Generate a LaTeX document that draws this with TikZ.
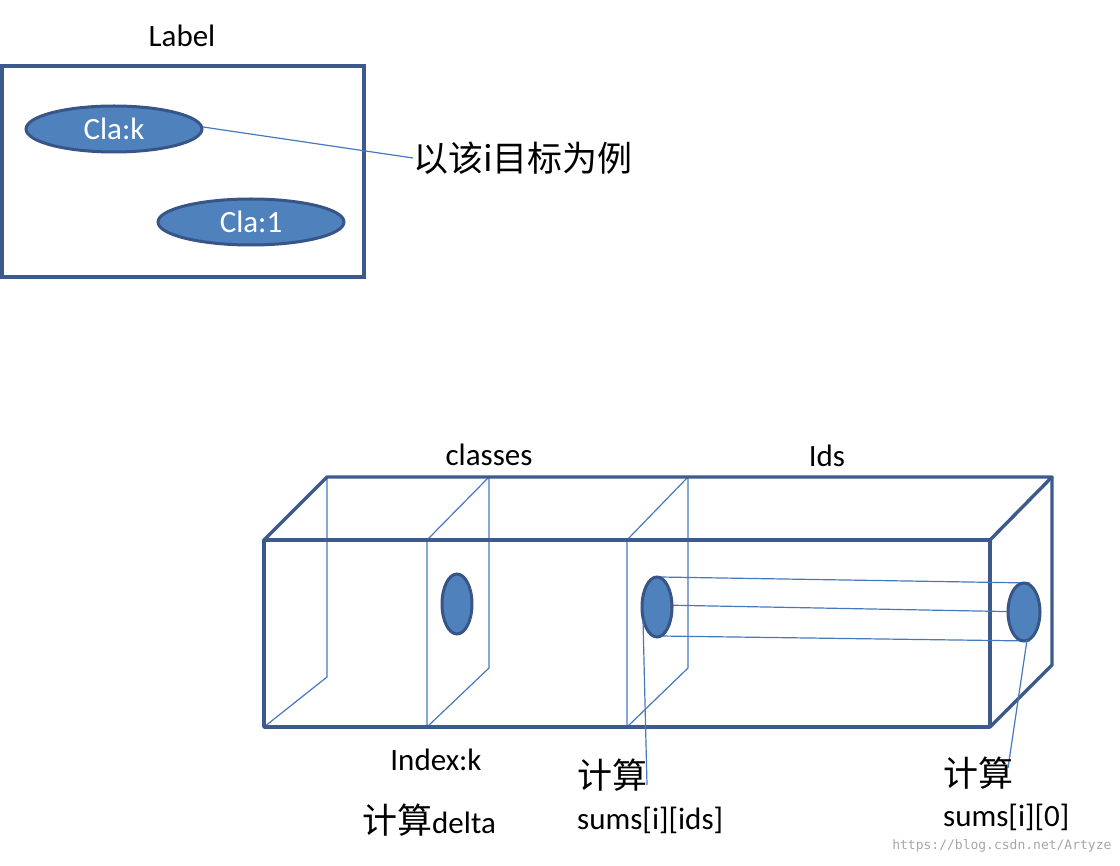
\documentclass[tikz,border=0pt]{standalone}
\usepackage{fontspec}
\setmainfont{Carlito}
\newfontfamily\cjk{Noto Sans CJK SC}
\newfontfamily\wm{DejaVu Sans Mono}
\definecolor{efill}{RGB}{79,129,189}
\definecolor{edge}{RGB}{55,85,135}
\definecolor{boxc}{RGB}{60,90,140}
\definecolor{thin}{RGB}{70,120,190}
\begin{document}
\begin{tikzpicture}[x=1pt,y=-1pt,
  dk/.style={draw=boxc, line width=3.4pt},
  th/.style={draw=thin, line width=1.2pt},
  blob/.style={fill=efill, draw=edge, line width=3pt},
  lbl/.style={font=\fontsize{31}{36}\selectfont, inner sep=0pt},
  cj/.style={font=\cjk\fontsize{35}{40}\selectfont, inner sep=0pt}]
\useasboundingbox (0,0) rectangle (1120,866);
\draw[dk] (2,66) rectangle (364,277);
\node[lbl] (label) at (182,36) {Label};
\path[blob] (114,129) ellipse [x radius=88, y radius=23];
\node[lbl, text=white] (clak) at (114,129) {Cla:k};
\path[blob] (251,222) ellipse [x radius=93, y radius=23];
\node[lbl, text=white] (cla1) at (251,222) {Cla:1};
\coordinate (ka) at (203,127);
\node[cj, anchor=west] (ex) at (413,158) {以该i目标为例};
\draw[th] (ka) -- (ex.west);
% box
\draw[th] (327,477) -- (327,677) -- (264,727);
\draw[th] (427,540) -- (489,477) -- (489,668) -- (427,727) (427,540) -- (427,727);
\draw[th] (627,540) -- (688,477) -- (688,668) -- (627,727) (627,540) -- (627,727);
\draw[dk, line join=round] (264,540) rectangle (990,727);
\draw[dk, line join=round] (264,540) -- (327,477) -- (1052,477) -- (990,540);
\draw[dk, line join=round] (1052,477) -- (1052,665) -- (990,727);
% ellipses
\path[blob] (457,604) ellipse [x radius=15, y radius=30];
\draw[th] (660,577) -- (1030,583) (660,605) -- (1030,612) (660,636) -- (1030,641);
\path[blob] (657,607) ellipse [x radius=15, y radius=30];
\path[blob] (1024,612) ellipse [x radius=16, y radius=29];
\draw[th] (643,620) -- (647,785);
\draw[th] (1027,640) -- (1008,768);
% texts
\node[lbl] (classes) at (489,455) {classes};
\node[lbl] (ids) at (827,456) {Ids};
\node[lbl] (idx) at (436,760) {Index:k};
\node[lbl, anchor=west] (d) at (362,820) {{\cjk\fontsize{35}{40}\selectfont 计算}delta};
\node[cj, anchor=west] (c1) at (577,775) {计算};
\node[lbl, anchor=west] (s1) at (577,820) {sums[i][ids]};
\node[cj, anchor=west] (c2) at (943,773) {计算};
\node[lbl, anchor=west] (s2) at (943,817) {sums[i][0]};
\node[font=\wm\fontsize{13}{15}\selectfont, text=gray!70, anchor=east] (w) at (1115,846) {https://blog.csdn.net/Artyze};
\end{tikzpicture}
\end{document}
